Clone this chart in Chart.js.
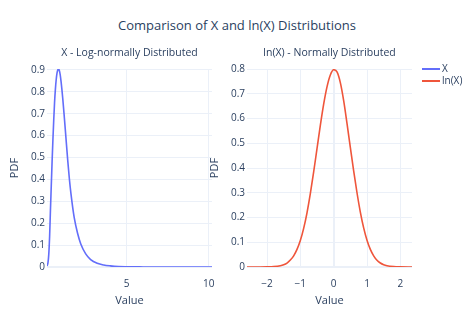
<!DOCTYPE html>
<html>
<head>
<meta charset="utf-8">
<script src="https://cdn.jsdelivr.net/npm/chart.js@4"></script>
<style>
  body { margin: 0; background: #fff; font-family: "Open Sans", sans-serif; color: #2a3f5f; }
  #wrap { position: relative; width: 474px; height: 325px; overflow: hidden; }
  #title { position: absolute; left: 0; top: 16px; width: 474px; text-align: center; font-size: 13px; line-height: 18px; }
  .plot { position: absolute; top: 38px; width: 258px; height: 287px; }
  #legend { position: absolute; left: 422px; top: 62px; font-size: 10px; }
  #legend div { height: 12px; line-height: 12px; white-space: nowrap; }
  #legend span { display: inline-block; width: 18px; height: 2px; vertical-align: middle; margin-right: 2px; }
</style>
</head>
<body>
<div id="wrap">
  <div id="title">Comparison of X and ln(X) Distributions</div>
  <div class="plot" style="left: 0px;"><canvas id="plotX"></canvas></div>
  <div class="plot" style="left: 200px;"><canvas id="plotLn"></canvas></div>
  <div id="legend"></div>
</div>
<script>
// density of X (log-normal)
const xValues = [0.14, 0.2, 0.25, 0.3, 0.35, 0.4, 0.45, 0.5, 0.55, 0.6, 0.65, 0.7, 0.75, 0.8, 0.85, 0.9, 0.95, 1.0,
  1.1, 1.2, 1.3, 1.4, 1.5, 1.6, 1.8, 2.0, 2.2, 2.5, 2.8, 3.2, 3.6, 4.0, 4.5, 5.0, 6.0, 7.0, 8.0, 9.0, 10.2];
const xDensity = [0.004, 0.02, 0.06, 0.14, 0.26, 0.37, 0.48, 0.58, 0.67, 0.75, 0.81, 0.855, 0.885, 0.9, 0.904, 0.895, 0.875, 0.845,
  0.77, 0.68, 0.585, 0.49, 0.405, 0.335, 0.225, 0.155, 0.105, 0.06, 0.034, 0.017, 0.009, 0.005, 0.002, 0.001, 0.0003, 0, 0, 0, 0];

// density of ln(X) (normal)
const lnValues = [-2.6, -2.2, -2.0, -1.8, -1.6, -1.5, -1.4, -1.3, -1.2, -1.1, -1.0, -0.9, -0.8, -0.7, -0.6, -0.5, -0.4, -0.3, -0.2, -0.1,
  0, 0.1, 0.2, 0.3, 0.4, 0.5, 0.6, 0.7, 0.8, 0.9, 1.0, 1.1, 1.2, 1.3, 1.4, 1.5, 1.6, 1.8, 2.0, 2.35];
const lnDensity = [0, 0, 0.0004, 0.0015, 0.005, 0.009, 0.016, 0.028, 0.045, 0.071, 0.107, 0.156, 0.219, 0.296, 0.384, 0.478, 0.572, 0.658, 0.728, 0.776,
  0.797, 0.788, 0.745, 0.672, 0.58, 0.483, 0.388, 0.3, 0.222, 0.158, 0.108, 0.071, 0.045, 0.027, 0.016, 0.009, 0.005, 0.0015, 0.0004, 0];

const xTicksX = [5, 10];
const xTicksLn = [-2, -1, 0, 1, 2];
const yTicksX = [0, 0.1, 0.2, 0.3, 0.4, 0.5, 0.6, 0.7, 0.8, 0.9];
const yTicksLn = [0, 0.1, 0.2, 0.3, 0.4, 0.5, 0.6, 0.7, 0.8];

const seriesNames = ["X", "ln(X)"];
const seriesColors = ["#636efa", "#ef553b"];
const subplotTitles = ["X - Log-normally Distributed", "ln(X) - Normally Distributed"];

const TEXT = "#2a3f5f";
const GRID = "#ebf0f8";

Chart.defaults.font.family = "'Open Sans', sans-serif";
Chart.defaults.color = TEXT;

function makePlot(id, xs, ys, name, color, title, xTicks, yTicks) {
	new Chart(document.getElementById(id), {
		type: "line",
		data: {
			datasets: [{
				label: name,
				data: xs.map((x, i) => ({ x: x, y: ys[i] })),
				borderColor: color,
				borderWidth: 1.6,
				pointRadius: 0,
				fill: false,
				cubicInterpolationMode: "monotone",
			}],
		},
		options: {
			responsive: true,
			maintainAspectRatio: false,
			animation: false,
			layout: { padding: { right: 46 } },
			plugins: {
				legend: { display: false },
				tooltip: { enabled: false },
				title: {
					display: true,
					text: title,
					fullSize: false, // center over the plot area
					color: TEXT,
					font: { size: 10.5, weight: "normal" },
					padding: { top: 8.7, bottom: 9.7 },
				},
			},
			scales: {
				x: {
					type: "linear",
					min: Math.min(...xs),
					max: Math.max(...xs),
					afterBuildTicks: (scale) => { scale.ticks = xTicks.map((v) => ({ value: v })); },
					afterFit: (scale) => { scale.height = 58; },
					border: { display: false },
					grid: {
						color: GRID,
						drawTicks: false,
						lineWidth: (ctx) => (ctx.tick && ctx.tick.value === 0 ? 2 : 1),
					},
					ticks: {
						autoSkip: false,
						maxRotation: 0,
						padding: 11,
						font: { size: 10 },
						callback: (v) => (v < 0 ? "\u2212" + Math.abs(v) : String(v)),
					},
					title: { display: true, text: "Value", font: { size: 11 }, padding: { top: 0, bottom: 18 } },
				},
				y: {
					min: 0,
					max: Math.max(...ys, ...yTicks),
					afterBuildTicks: (scale) => { scale.ticks = yTicks.map((v) => ({ value: v })); },
					afterFit: (scale) => { scale.width = 47; },
					border: { display: false },
					grid: {
						color: GRID,
						drawTicks: false,
						lineWidth: (ctx) => (ctx.tick && ctx.tick.value === 0 ? 2 : 1),
					},
					ticks: { padding: 2, font: { size: 10 } },
					title: { display: true, text: "PDF", font: { size: 11 }, padding: { top: 8.4, bottom: 0 } },
				},
			},
		},
	});
}

makePlot("plotX", xValues, xDensity, seriesNames[0], seriesColors[0], subplotTitles[0], xTicksX, yTicksX);
makePlot("plotLn", lnValues, lnDensity, seriesNames[1], seriesColors[1], subplotTitles[1], xTicksLn, yTicksLn);

// shared legend for both traces
const legend = document.getElementById("legend");
seriesNames.forEach((name, i) => {
	const row = document.createElement("div");
	const swatch = document.createElement("span");
	swatch.style.background = seriesColors[i];
	row.appendChild(swatch);
	row.appendChild(document.createTextNode(name));
	legend.appendChild(row);
});
</script>
</body>
</html>
